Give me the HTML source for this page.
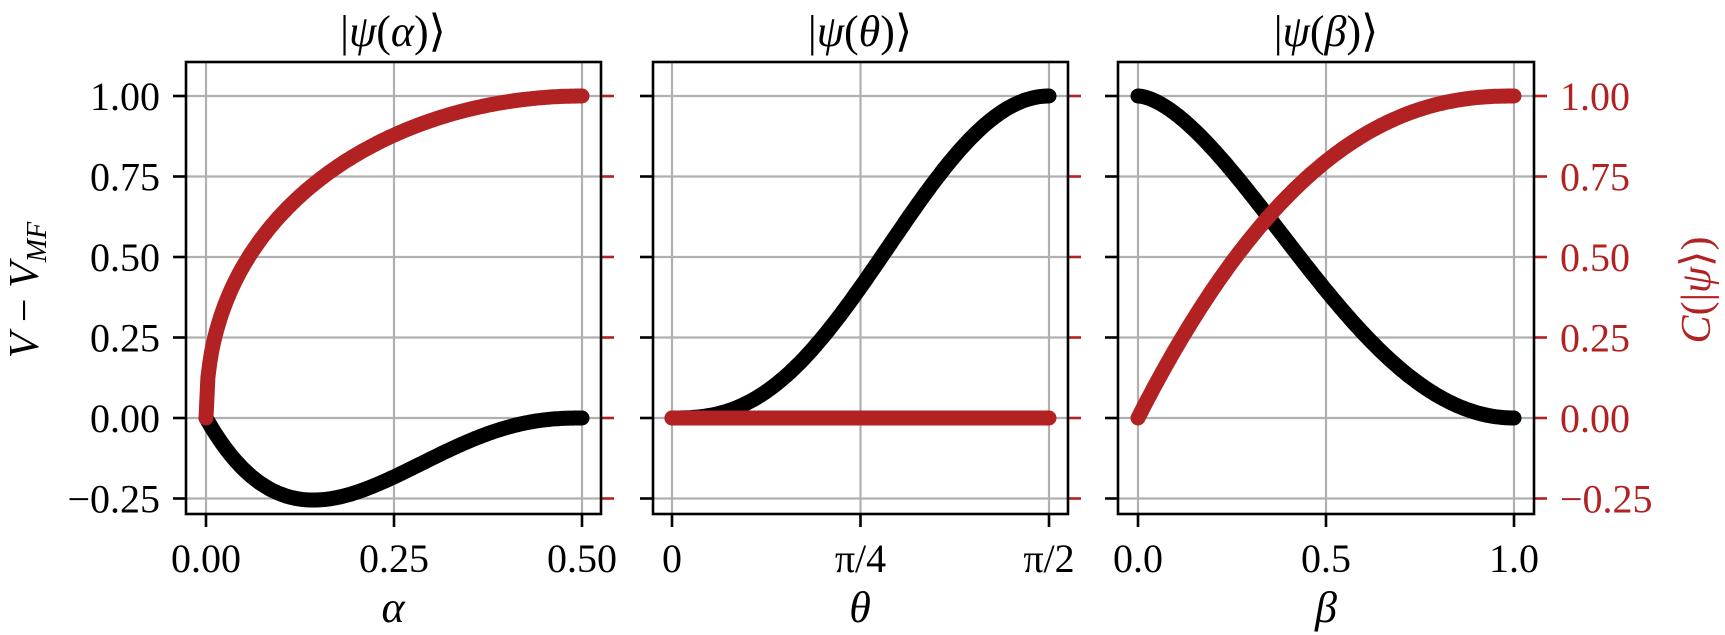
<!DOCTYPE html>
<html><head><meta charset="utf-8"><style>
html,body{margin:0;padding:0;background:#fff;}
svg{display:block;}
text{font-family:"Liberation Serif","DejaVu Serif",serif;}
</style></head><body>
<svg id="s" width="1725" height="635" xmlns="http://www.w3.org/2000/svg">
<g id="grid" stroke="#b0b0b0" stroke-width="2.2" fill="none"></g>
<g id="curves" fill="none" stroke-linecap="round" stroke-linejoin="round" stroke-width="15"></g>
<g id="frames" fill="none" stroke="#000" stroke-width="2.6"></g>
<g id="labels" font-size="40"></g>
<text x="393" y="46" font-size="44" text-anchor="middle">|<tspan font-style="italic">ψ</tspan>(<tspan font-style="italic">α</tspan>)⟩</text>
<text x="860" y="46" font-size="44" text-anchor="middle">|<tspan font-style="italic">ψ</tspan>(<tspan font-style="italic">θ</tspan>)⟩</text>
<text x="1326" y="46" font-size="44" text-anchor="middle">|<tspan font-style="italic">ψ</tspan>(<tspan font-style="italic">β</tspan>)⟩</text>
<text x="393" y="622" font-size="44" font-style="italic" text-anchor="middle">α</text>
<text x="860" y="622" font-size="44" font-style="italic" text-anchor="middle">θ</text>
<text x="1326" y="622" font-size="44" font-style="italic" text-anchor="middle">β</text>
<text transform="translate(38,290) rotate(-90)" font-size="42" text-anchor="middle"><tspan font-style="italic">V</tspan> − <tspan font-style="italic">V</tspan><tspan font-size="28" dy="8" font-style="italic">MF</tspan></text>
<text transform="translate(1710,290) rotate(-90)" font-size="42" fill="#b22222" text-anchor="middle"><tspan font-style="italic">C</tspan>(|<tspan font-style="italic">ψ</tspan>⟩)</text>
</svg>
<script>
(function(){
const NS="http://www.w3.org/2000/svg";
const red="#b22222";
function el(p,t,a,txt){const e=document.createElementNS(NS,t);for(const k in a)e.setAttribute(k,a[k]);if(txt!==undefined)e.textContent=txt;document.getElementById(p).appendChild(e);return e;}
const TOP=62,BOT=514;
const Y=v=>418-v*322;
const panels=[
 {l:186,r:601,x0:206,x1:582,d0:0,d1:0.5,xt:[[0,"0.00"],[0.25,"0.25"],[0.5,"0.50"]]},
 {l:653,r:1068,x0:672,x1:1049,d0:0,d1:Math.PI/2,xt:[[0,"0"],[Math.PI/4,"π/4"],[Math.PI/2,"π/2"]]},
 {l:1118,r:1534,x0:1138,x1:1514,d0:0,d1:1,xt:[[0,"0.0"],[0.5,"0.5"],[1,"1.0"]]}
];
const yt=[-0.25,0,0.25,0.5,0.75,1];
panels.forEach((p,i)=>{
 const X=v=>p.x0+(v-p.d0)/(p.d1-p.d0)*(p.x1-p.x0);
 p.X=X;
 p.xt.forEach(([v,s])=>{const x=X(v);
  el("grid","line",{x1:x,x2:x,y1:TOP,y2:BOT});
  el("frames","line",{x1:x,x2:x,y1:BOT,y2:BOT+13});
  el("labels","text",{x:x,y:572,"text-anchor":"middle"},s);
 });
 yt.forEach(v=>{const y=Y(v);
  el("grid","line",{x1:p.l,x2:p.r,y1:y,y2:y});
  el("frames","line",{x1:p.l-13,x2:p.l,y1:y,y2:y});
  el("frames","line",{x1:p.r,x2:p.r+13,y1:y,y2:y,stroke:red});
  if(i==0) el("labels","text",{x:160,y:y+14,"text-anchor":"end"},v<0?"−0.25":v.toFixed(2));
  if(i==2) el("labels","text",{x:1560,y:y+14,fill:red},v<0?"−0.25":v.toFixed(2));
 });
 el("frames","rect",{x:p.l,y:TOP,width:p.r-p.l,height:BOT-TOP});
});
function curve(p,f,col){let pts=[];const N=200;for(let k=0;k<=N;k++){const v=p.d0+(p.d1-p.d0)*k/N;pts.push(p.X(v).toFixed(1)+","+Y(f(v)).toFixed(1));}
 el("curves","polyline",{points:pts.join(" "),stroke:col});}
const P=panels;
curve(P[0],a=>-23.4*a*Math.pow(Math.max(0,0.5-a),2.5),"#000");
curve(P[0],a=>Math.pow(Math.max(0,4*a*(1-a)),0.45),red);
curve(P[1],t=>Math.pow(Math.sin(t)**2,1.3),"#000");
curve(P[1],t=>0,red);
curve(P[2],b=>(1+Math.cos(Math.PI*Math.pow(b,0.82)))/2,"#000");
curve(P[2],b=>1-Math.pow(1-b,2.3),red);
})();
</script>
</body></html>
